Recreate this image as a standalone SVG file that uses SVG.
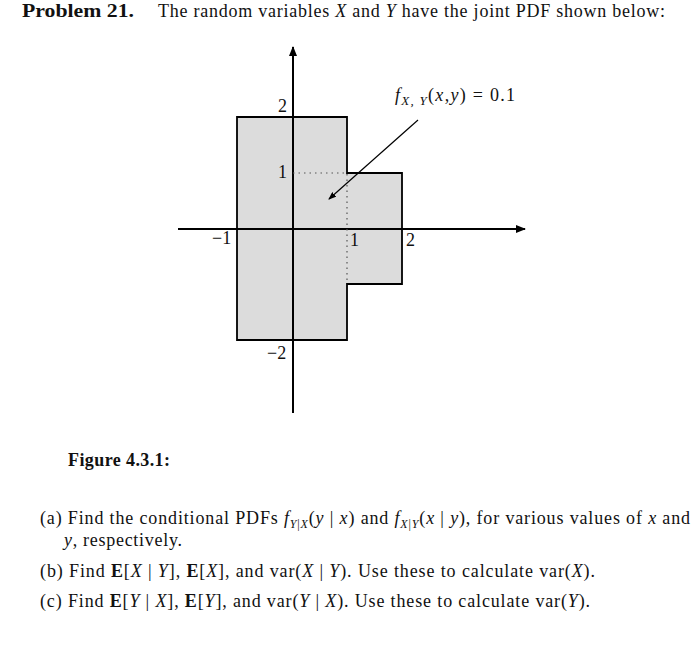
<svg xmlns="http://www.w3.org/2000/svg" width="700" height="646" viewBox="0 0 700 646">
<style>
text{font-family:"Liberation Serif","DejaVu Serif",serif;font-size:18px;fill:#111}
.b{font-weight:bold}
.i{font-style:italic}
.ax{stroke:#000;stroke-width:2;fill:none}
</style>
<defs><marker id="ah" markerWidth="10" markerHeight="8" refX="9" refY="4" orient="auto" markerUnits="userSpaceOnUse"><path d="M0,0L10,4L0,8z" fill="#000"/></marker>
<marker id="sa" markerWidth="8" markerHeight="6" refX="7" refY="3" orient="auto" markerUnits="userSpaceOnUse"><path d="M0,0L8,3L0,6z" fill="#000"/></marker></defs>
<rect width="700" height="646" fill="#fff"/>
<text x="22" y="17" class="b" textLength="112" lengthAdjust="spacingAndGlyphs">Problem 21.</text>
<text x="158" y="17" textLength="507" lengthAdjust="spacing">The random variables <tspan class="i">X</tspan> and <tspan class="i">Y</tspan> have the joint PDF shown below:</text>
<g id="region"><path d="M237,117H347V173H402V284H347V340H237Z" fill="#dcdcdc" stroke="#000" stroke-width="1.8"/></g>
<g id="connectors">
<line class="ax" x1="178" y1="229" x2="525" y2="229" marker-end="url(#ah)"/>
<line class="ax" x1="293" y1="413" x2="293" y2="47" marker-end="url(#ah)"/>
<path d="M293,173H347V284" stroke="#555" stroke-width="1.2" stroke-dasharray="1.5,4" fill="none"/>
<line x1="418" y1="120" x2="329" y2="199" stroke="#000" stroke-width="1.2" marker-end="url(#sa)"/>
</g>
<g id="labels">
<text x="278" y="112">2</text>
<text x="278" y="178">1</text>
<text x="212" y="244">−1</text>
<text x="350" y="246">1</text>
<text x="406" y="246">2</text>
<text x="267" y="359">−2</text>
<text x="395" y="101" textLength="120" lengthAdjust="spacing"><tspan class="i">f</tspan><tspan class="i" font-size="13" dy="4">X, Y</tspan><tspan dy="-4">(</tspan><tspan class="i">x</tspan>,<tspan class="i">y</tspan>) = 0.1</text>
</g>
<text x="68" y="466" class="b" textLength="102" lengthAdjust="spacing">Figure 4.3.1:</text>
<text x="40" y="524" textLength="650" lengthAdjust="spacing">(a)  Find the conditional PDFs <tspan class="i">f</tspan><tspan class="i" font-size="12" dy="4">Y</tspan><tspan font-size="12">|</tspan><tspan class="i" font-size="12">X</tspan><tspan dy="-4">(</tspan><tspan class="i">y</tspan> | <tspan class="i">x</tspan>) and <tspan class="i">f</tspan><tspan class="i" font-size="12" dy="4">X</tspan><tspan font-size="12">|</tspan><tspan class="i" font-size="12">Y</tspan><tspan dy="-4">(</tspan><tspan class="i">x</tspan> | <tspan class="i">y</tspan>), for various values of <tspan class="i">x</tspan> and</text>
<text x="64" y="546" textLength="118" lengthAdjust="spacing"><tspan class="i">y</tspan>, respectively.</text>
<text x="40" y="577" textLength="555" lengthAdjust="spacing">(b)  Find <tspan class="b">E</tspan>[<tspan class="i">X</tspan> | <tspan class="i">Y</tspan>], <tspan class="b">E</tspan>[<tspan class="i">X</tspan>], and var(<tspan class="i">X</tspan> | <tspan class="i">Y</tspan>). Use these to calculate var(<tspan class="i">X</tspan>).</text>
<text x="40" y="607" textLength="550" lengthAdjust="spacing">(c)  Find <tspan class="b">E</tspan>[<tspan class="i">Y</tspan> | <tspan class="i">X</tspan>], <tspan class="b">E</tspan>[<tspan class="i">Y</tspan>], and var(<tspan class="i">Y</tspan> | <tspan class="i">X</tspan>). Use these to calculate var(<tspan class="i">Y</tspan>).</text>
</svg>
